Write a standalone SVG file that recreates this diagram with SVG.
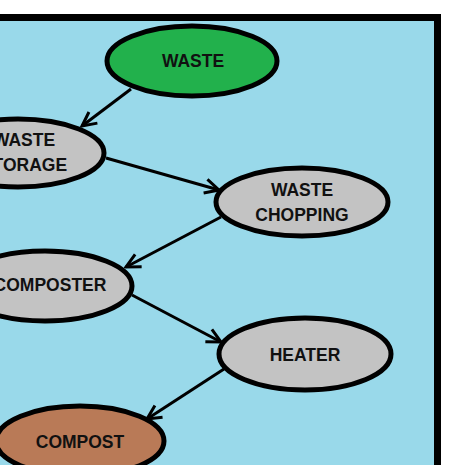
<svg xmlns="http://www.w3.org/2000/svg" width="474" height="474" viewBox="0 0 474 474">
<defs>
<style>
.n{stroke:#000;stroke-width:5}
.g{fill:#c3c3c3}
.t{font-family:"Liberation Sans",Arial,sans-serif;font-weight:bold;font-size:17.5px;fill:#111;text-anchor:middle;dominant-baseline:central}
.e{stroke:#000;stroke-width:3;fill:none}
</style>
<marker id="ah" viewBox="0 0 18 18" refX="16" refY="9" markerWidth="18" markerHeight="18" markerUnits="userSpaceOnUse" orient="auto">
<path d="M2,2 L16,9 L2,16" fill="none" stroke="#000" stroke-width="3"/>
</marker>
</defs>
<rect x="0" y="0" width="474" height="474" fill="#fff"/>
<rect x="0" y="18" width="437" height="447" fill="#99d9ea"/>
<path d="M0,17.5 H437.5 V465" fill="none" stroke="#000" stroke-width="7"/>
<g id="connectors">
<line class="e" x1="131" y1="89" x2="82" y2="126" marker-end="url(#ah)"/>
<line class="e" x1="106" y1="158" x2="219" y2="190" marker-end="url(#ah)"/>
<line class="e" x1="221" y1="217" x2="126" y2="267" marker-end="url(#ah)"/>
<line class="e" x1="132" y1="295" x2="221" y2="342" marker-end="url(#ah)"/>
<line class="e" x1="224" y1="369" x2="147" y2="419" marker-end="url(#ah)"/>
</g>
<g id="waste">
<ellipse class="n" cx="192" cy="61" rx="85" ry="35" fill="#22b14c"/>
<text class="t" x="193" y="61">WASTE</text>
</g>
<g id="waste-storage">
<ellipse class="n g" cx="18" cy="153" rx="86" ry="34"/>
<text class="t" x="24" y="140">WASTE</text>
<text class="t" x="24" y="165">STORAGE</text>
</g>
<g id="waste-chopping">
<ellipse class="n g" cx="302" cy="202" rx="86" ry="34"/>
<text class="t" x="302" y="190">WASTE</text>
<text class="t" x="302" y="215">CHOPPING</text>
</g>
<g id="composter">
<ellipse class="n g" cx="45" cy="286" rx="87" ry="35"/>
<text class="t" x="50" y="285">COMPOSTER</text>
</g>
<g id="heater">
<ellipse class="n g" cx="305" cy="354" rx="86" ry="36"/>
<text class="t" x="305" y="355">HEATER</text>
</g>
<g id="compost">
<ellipse class="n" cx="80" cy="441" rx="84" ry="35" fill="#b97a57"/>
<text class="t" x="80" y="442">COMPOST</text>
</g>
<rect x="0" y="465" width="474" height="9" fill="#fff"/>
</svg>
